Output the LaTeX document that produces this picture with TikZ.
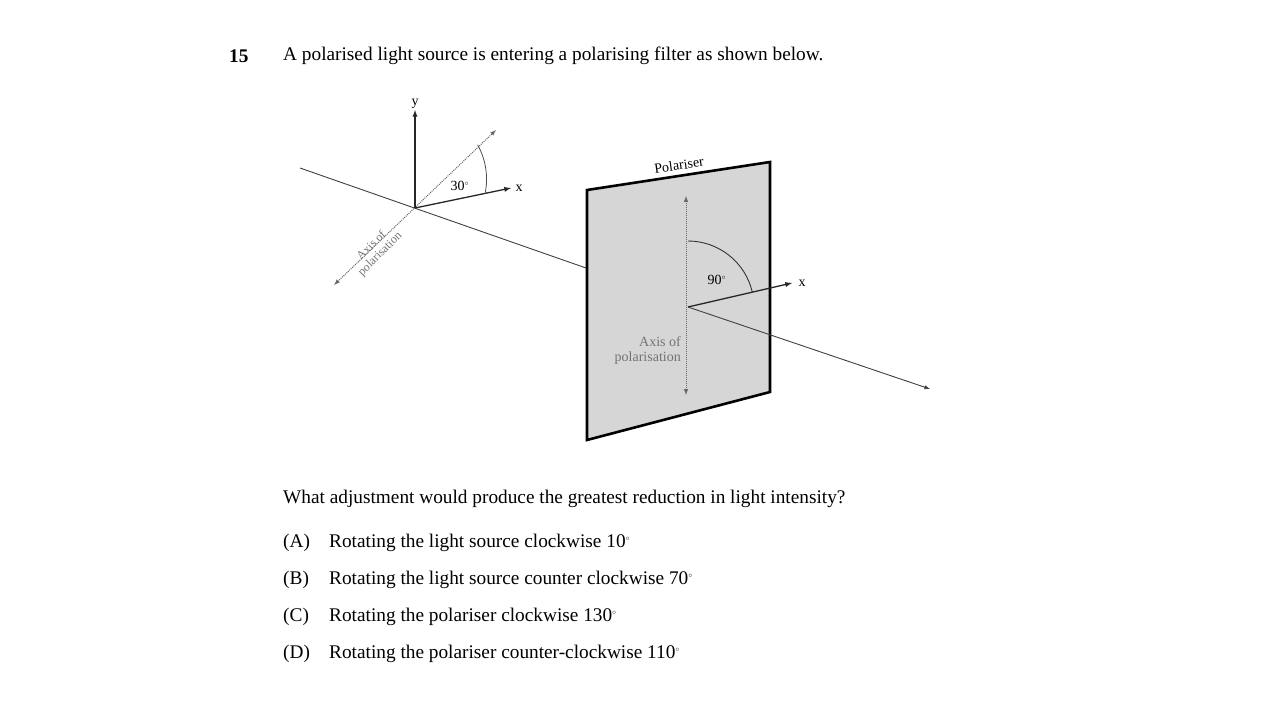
\documentclass[tikz,border=0pt]{standalone}
\usepackage{fontspec}
\setmainfont{Liberation Serif}
\begin{document}
\begin{tikzpicture}[x=1pt,y=-1pt,
  txt/.style={font=\fontsize{19.3}{22}\selectfont,anchor=west,inner sep=0},
  sm/.style={font=\fontsize{14}{15}\selectfont,inner sep=1pt},
  gr/.style={sm,text=black!55,align=center},
  dot/.style={densely dotted,black!60,line width=1pt},
  ax/.style={-latex,line width=1.3pt,black!85}]
\useasboundingbox (0,0) rectangle (1280,720);
\node[txt,font=\bfseries\fontsize{19.3}{22}\selectfont] (n) at (229,56) {15};
\node[txt] (q) at (283,56) {A polarised light source is entering a polarising filter as shown below.};
% source
\coordinate (o1) at (415,208);
\coordinate (bl) at (300,168);
\coordinate (pl) at (586,268);
\draw[black!75,line width=0.9pt] (bl) -- (pl);
\draw[dot,latex-latex] (334,285) -- (496,130);
\draw[ax] (o1) -- (415,110) node[above,sm,black] (ly) {y};
\draw[ax] (o1) -- (511,188) node[right,sm,black,xshift=3pt] (lx) {x};
\draw[black!70,line width=0.8pt] (485,194) arc[start angle=12,end angle=-29,radius=71];
\node[sm] (l30) at (460,186) {30\textsuperscript{\scriptsize$\circ$}};
\node[gr,rotate=45,font=\fontsize{12}{12}\selectfont] (la) at (376,250) {Axis of\\polarisation};
% polariser
\draw[line width=2.6pt,fill=black!16] (587,190) -- (770,162) -- (770,392) -- (587,440) -- cycle;
\node[sm,rotate=8] (lp) at (679,165) {Polariser};
\coordinate (o2) at (688,307);
\draw[dot,latex-latex] (686,196) -- (686,395);
\draw[black!80,line width=0.9pt] (688,241) arc[start angle=-90,end angle=-13,radius=66];
\node[sm] (l90) at (717,280) {90\textsuperscript{\scriptsize$\circ$}};
\draw[ax] (o2) -- (792,283) node[right,sm,black,xshift=5pt] (lx2) {x};
\draw[-latex,black!75,line width=0.9pt] (o2) -- (930,389);
\node[gr,align=right,anchor=east] (la2) at (682,351) {Axis of\\polarisation};
% question
\node[txt] (q2) at (283,499) {What adjustment would produce the greatest reduction in light intensity?};
\foreach \l/\t/\y in {A/Rotating the light source clockwise 10\textsuperscript{\scriptsize$\circ$}/543,
  B/Rotating the light source counter clockwise 70\textsuperscript{\scriptsize$\circ$}/580,
  C/Rotating the polariser clockwise 130\textsuperscript{\scriptsize$\circ$}/617,
  D/Rotating the polariser counter-clockwise 110\textsuperscript{\scriptsize$\circ$}/654}{
  \node[txt] (o\l) at (283,\y) {(\l)};
  \node[txt] (t\l) at (329,\y) {\t};
}
\end{tikzpicture}
\end{document}
